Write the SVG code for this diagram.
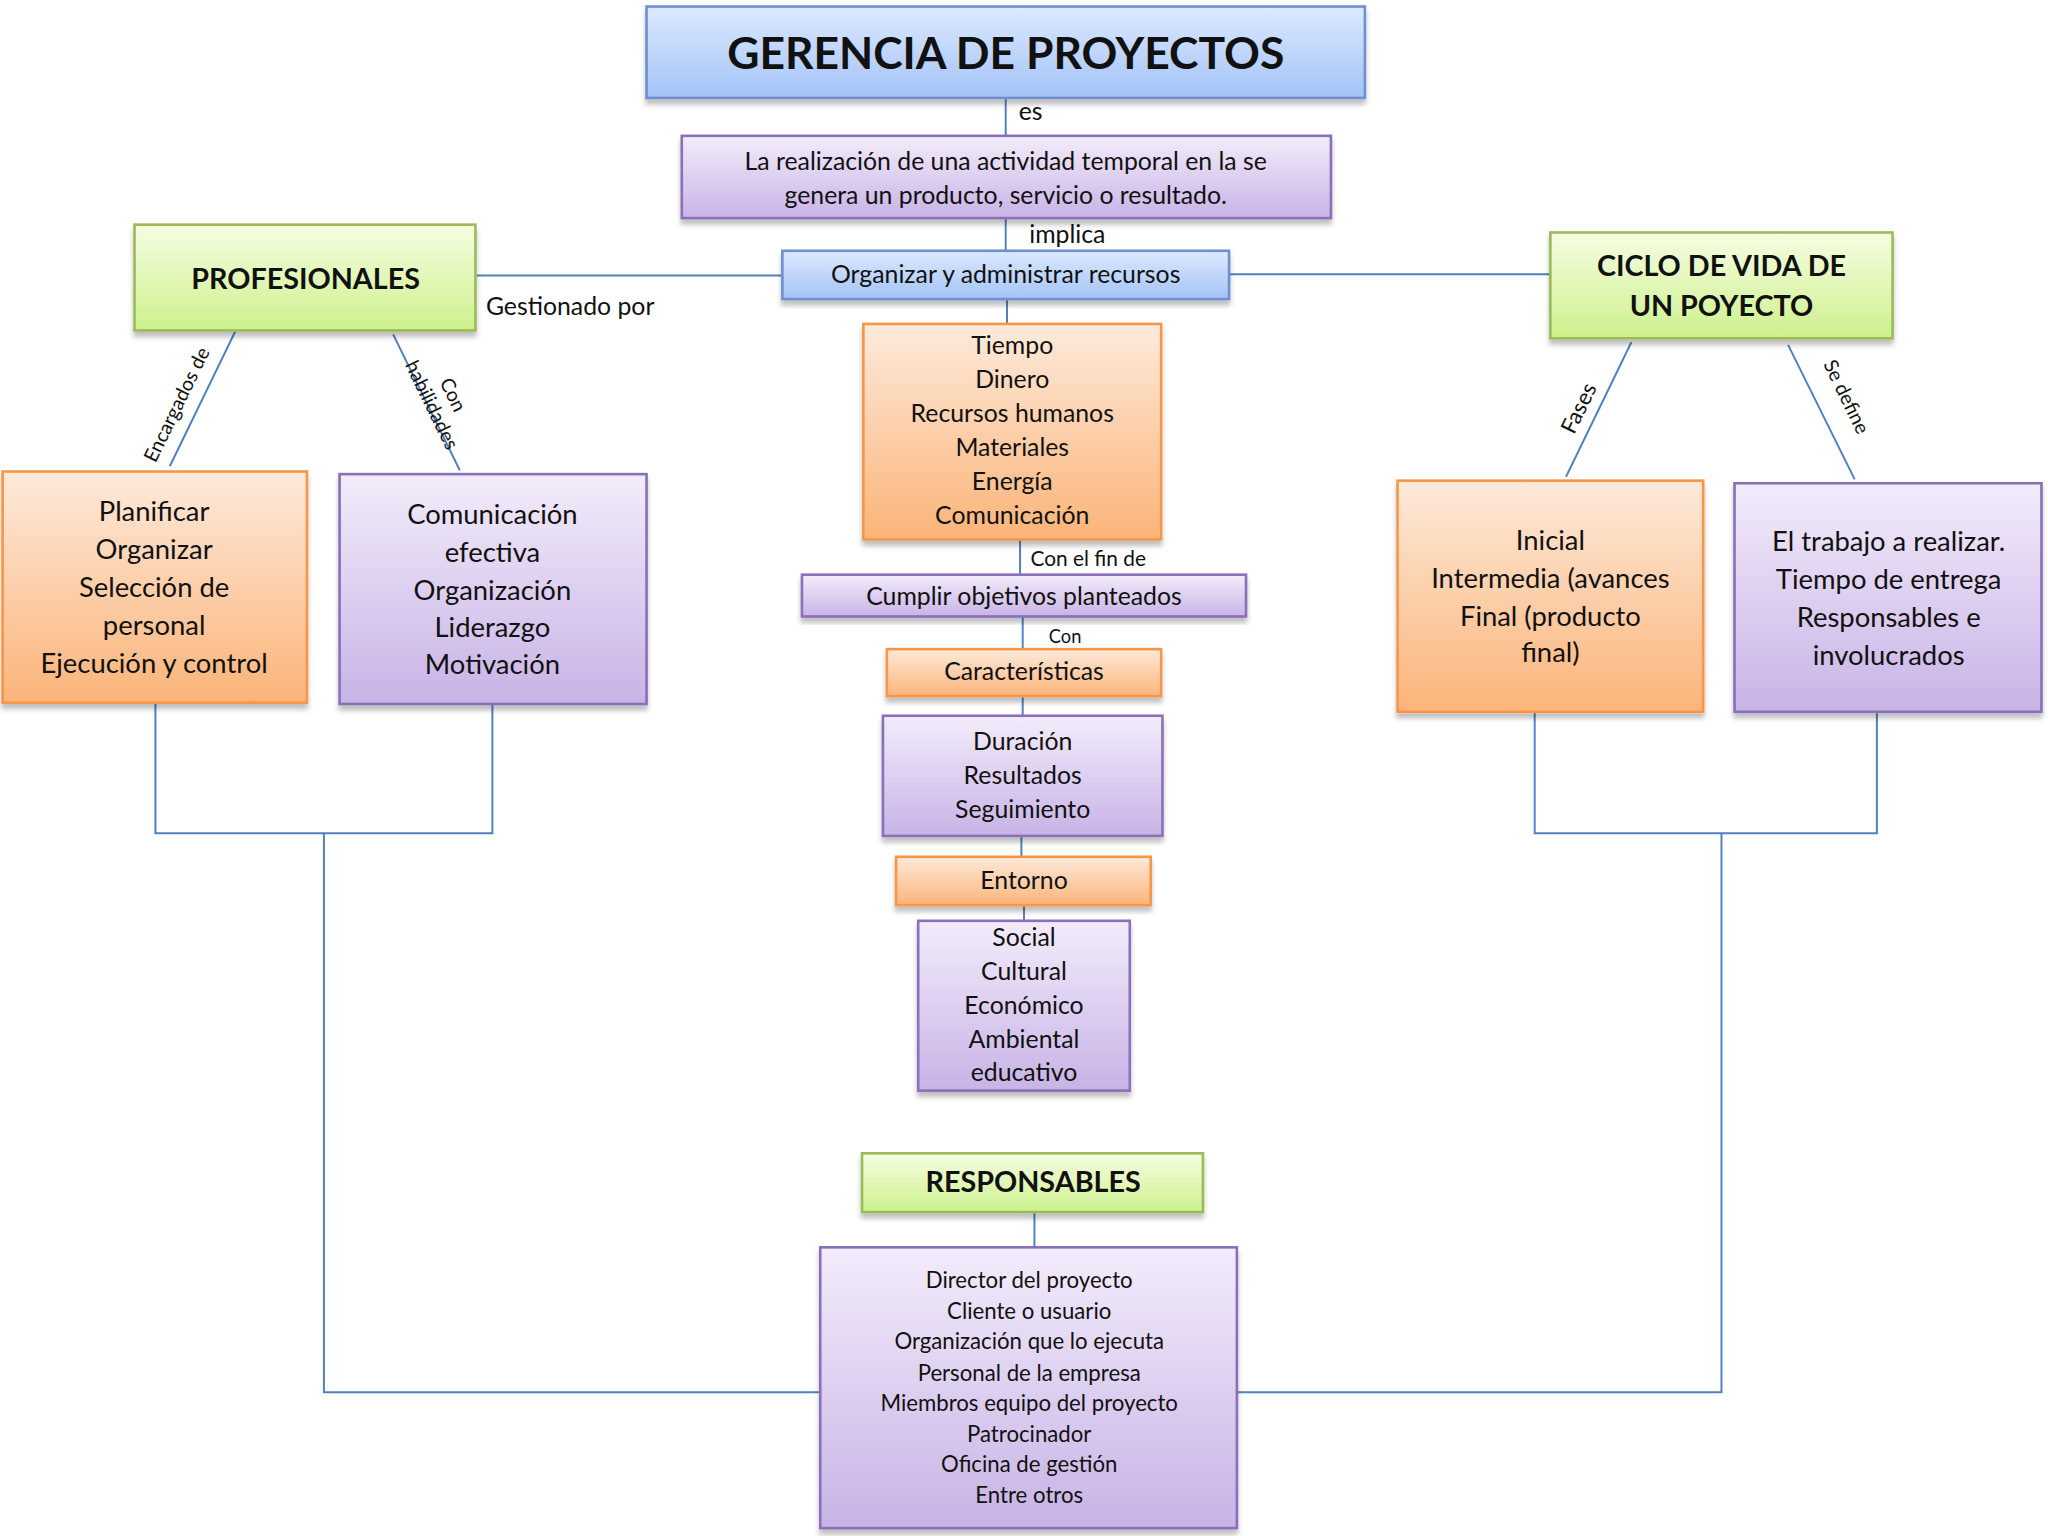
<svg xmlns="http://www.w3.org/2000/svg" width="2048" height="1536" viewBox="0 0 2048 1536">
<defs>
<linearGradient id="gb" x1="0" y1="0" x2="0" y2="1"><stop offset="0" stop-color="#dde9ff"/><stop offset="1" stop-color="#a3c3f6"/></linearGradient>
<linearGradient id="gp" x1="0" y1="0" x2="0" y2="1"><stop offset="0" stop-color="#f3ecfb"/><stop offset="1" stop-color="#c8b3e6"/></linearGradient>
<linearGradient id="gg" x1="0" y1="0" x2="0" y2="1"><stop offset="0" stop-color="#f6fde3"/><stop offset="1" stop-color="#cdf18c"/></linearGradient>
<linearGradient id="go" x1="0" y1="0" x2="0" y2="1"><stop offset="0" stop-color="#fdeadb"/><stop offset="1" stop-color="#fbb479"/></linearGradient>
<filter id="sh" x="-5%" y="-5%" width="110%" height="125%"><feDropShadow dx="0" dy="4" stdDeviation="2" flood-color="#000" flood-opacity="0.25"/></filter>
</defs>
<style>
text{font-family:Lato,"Noto Sans",sans-serif;fill:#111;text-anchor:middle}
.b{stroke:#6f8fcf;stroke-width:2;fill:url(#gb);filter:url(#sh)}
.p{stroke:#8a6fb8;stroke-width:2;fill:url(#gp);filter:url(#sh)}
.g{stroke:#9bbb59;stroke-width:2;fill:url(#gg);filter:url(#sh)}
.o{stroke:#f79646;stroke-width:2;fill:url(#go);filter:url(#sh)}
.c line,.c polyline{stroke:#4f81bd;stroke-width:1.5;fill:none}
.l{text-anchor:start;font-size:19px}
.bt{font-weight:bold}
</style>
<g transform="scale(1.30612)">
<g class="c" id="connectors">
<line x1="770" y1="75" x2="770" y2="104"/>
<line x1="770" y1="167" x2="770" y2="192"/>
<line x1="365" y1="211" x2="599" y2="211"/>
<line x1="941" y1="210" x2="1187" y2="210"/>
<line x1="771" y1="229" x2="771" y2="248"/>
<line x1="781" y1="413" x2="781" y2="440"/>
<line x1="783" y1="472" x2="783" y2="497"/>
<line x1="783" y1="533" x2="783" y2="548"/>
<line x1="782" y1="640" x2="782" y2="656"/>
<line x1="784" y1="693" x2="784" y2="705"/>
<line x1="792" y1="928" x2="792" y2="955"/>
<line x1="180" y1="254" x2="130" y2="357"/>
<line x1="301" y1="256" x2="352" y2="360"/>
<line x1="1249" y1="262" x2="1199" y2="365"/>
<line x1="1369" y1="264" x2="1420" y2="367"/>
<polyline points="119,538 119,638 377,638 377,539"/>
<polyline points="248,638 248,1066 628,1066"/>
<polyline points="1175,545 1175,638 1437,638 1437,545"/>
<polyline points="1318,638 1318,1066 947,1066"/>
<text class="l" x="780" y="92">es</text>
<text class="l" x="788" y="186">implica</text>
<text class="l" x="372" y="241">Gestionado por</text>
<text class="l" x="789" y="433" style="font-size:16px">Con el fin de</text>
<text class="l" x="803" y="492" style="font-size:14px">Con</text>
<text x="0" y="0" style="font-size:15px" transform="translate(140,312) rotate(-64)">Encargados de</text>
<text x="0" y="0" style="font-size:15px" transform="translate(335,308) rotate(64)"><tspan x="0" y="-8">Con</tspan><tspan x="0" y="10">habilidades</tspan></text>
<text x="0" y="0" style="font-size:17px" transform="translate(1214,315) rotate(-64)">Fases</text>
<text x="0" y="0" style="font-size:15px" transform="translate(1409,306) rotate(64)">Se define</text>
</g>
<g id="gerencia"><rect class="b" x="495" y="5" width="550" height="70"/><text class="bt" x="770" y="53" style="font-size:34px">GERENCIA DE PROYECTOS</text></g>
<g id="definicion"><rect class="p" x="522" y="104" width="497" height="63"/><text x="770" y="130" style="font-size:19px">La realización de una actividad temporal en la se</text><text x="770" y="156" style="font-size:19px">genera un producto, servicio o resultado.</text></g>
<g id="organizar"><rect class="b" x="599" y="192" width="342" height="37"/><text x="770" y="217" style="font-size:19px">Organizar y administrar recursos</text></g>
<g id="profesionales"><rect class="g" x="103" y="172" width="261" height="81"/><text class="bt" x="234" y="221" style="font-size:22px">PROFESIONALES</text></g>
<g id="ciclo"><rect class="g" x="1187" y="178" width="262" height="81"/><text class="bt" x="1318" y="211" style="font-size:22px">CICLO DE VIDA DE</text><text class="bt" x="1318" y="242" style="font-size:22px">UN POYECTO</text></g>
<g id="recursos" style="font-size:19px"><rect class="o" x="661" y="248" width="228" height="165"/>
<text x="775" y="271">Tiempo</text><text x="775" y="297">Dinero</text><text x="775" y="323">Recursos  humanos</text><text x="775" y="349">Materiales</text><text x="775" y="375">Energía</text><text x="775" y="401">Comunicación</text></g>
<g id="cumplir"><rect class="p" x="614" y="440" width="340" height="32"/><text x="784" y="463" style="font-size:19px">Cumplir objetivos planteados</text></g>
<g id="caracteristicas"><rect class="o" x="679" y="497" width="210" height="36"/><text x="784" y="521" style="font-size:19px">Características</text></g>
<g id="duracion" style="font-size:19px"><rect class="p" x="676" y="548" width="214" height="92"/><text x="783" y="574">Duración</text><text x="783" y="600">Resultados</text><text x="783" y="626">Seguimiento</text></g>
<g id="entorno"><rect class="o" x="686" y="656" width="195" height="37"/><text x="784" y="681" style="font-size:19px">Entorno</text></g>
<g id="social" style="font-size:19px"><rect class="p" x="703" y="705" width="162" height="130"/><text x="784" y="724">Social</text><text x="784" y="750">Cultural</text><text x="784" y="776">Económico</text><text x="784" y="802">Ambiental</text><text x="784" y="828">educativo</text></g>
<g id="responsables"><rect class="g" x="660" y="883" width="261" height="45"/><text class="bt" x="791" y="913" style="font-size:22px">RESPONSABLES</text></g>
<g id="lista" style="font-size:17px"><rect class="p" x="628" y="955" width="319" height="215"/>
<text x="788" y="986">Director del proyecto</text><text x="788" y="1010">Cliente o usuario</text><text x="788" y="1033">Organización que lo ejecuta</text><text x="788" y="1057">Personal de la empresa</text><text x="788" y="1080">Miembros equipo del proyecto</text><text x="788" y="1104">Patrocinador</text><text x="788" y="1127">Oficina de gestión</text><text x="788" y="1151">Entre otros</text></g>
<g id="planificar" style="font-size:21px"><rect class="o" x="2" y="361" width="233" height="177"/>
<text x="118" y="399">Planificar</text><text x="118" y="428">Organizar</text><text x="118" y="457">Selección de</text><text x="118" y="486">personal</text><text x="118" y="515">Ejecución y control</text></g>
<g id="comunicacion" style="font-size:21px"><rect class="p" x="260" y="363" width="235" height="176"/>
<text x="377" y="401">Comunicación</text><text x="377" y="430">efectiva</text><text x="377" y="459">Organización</text><text x="377" y="488">Liderazgo</text><text x="377" y="516">Motivación</text></g>
<g id="fases" style="font-size:21px"><rect class="o" x="1070" y="368" width="234" height="177"/>
<text x="1187" y="421">Inicial</text><text x="1187" y="450">Intermedia (avances</text><text x="1187" y="479">Final (producto</text><text x="1187" y="507">final)</text></g>
<g id="define" style="font-size:21px"><rect class="p" x="1328" y="370" width="235" height="175"/>
<text x="1446" y="422">El trabajo a realizar.</text><text x="1446" y="451">Tiempo de entrega</text><text x="1446" y="480">Responsables e</text><text x="1446" y="509">involucrados</text></g>
</g>
</svg>
